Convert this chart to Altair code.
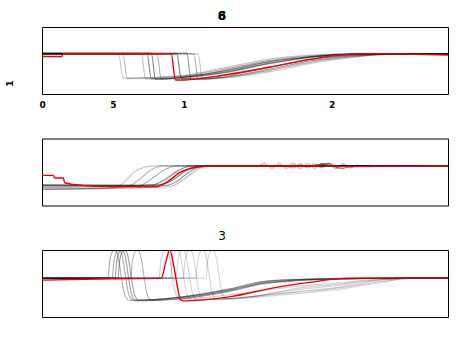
import altair as alt
import pandas as pd

X_MAX = 2.86
X_TICK_VALUES = [0, 0.5, 1, 2.04]
X_TICK_LABELS = ["0", "5", "1", "2"]
GRAY = "#000000"
RED = "#e8000b"

# ---------- panel 1 ----------
P1_GRAYS = [
    ("g1", 0.22, [0, 0.54, 0.57, 1.0, 1.3, 1.6, 1.9, 2.2, 2.86], [0.60, 0.60, 0.24, 0.28, 0.40, 0.52, 0.58, 0.60, 0.60]),
    ("g2", 0.28, [0, 0.57, 0.60, 1.0, 1.3, 1.6, 1.9, 2.2, 2.86], [0.60, 0.60, 0.23, 0.27, 0.38, 0.50, 0.57, 0.60, 0.60]),
    ("g3", 0.25, [0, 0.70, 0.73, 1.0, 1.3, 1.6, 1.9, 2.25, 2.86], [0.60, 0.60, 0.22, 0.25, 0.36, 0.49, 0.56, 0.60, 0.60]),
    ("g4", 0.45, [0, 0.74, 0.77, 1.0, 1.3, 1.6, 1.9, 2.25, 2.86], [0.60, 0.60, 0.23, 0.26, 0.35, 0.48, 0.56, 0.60, 0.60]),
    ("g5", 0.45, [0, 0.77, 0.80, 1.0, 1.3, 1.6, 1.9, 2.25, 2.86], [0.61, 0.61, 0.22, 0.25, 0.33, 0.46, 0.55, 0.60, 0.60]),
    ("g6", 0.30, [0, 0.81, 0.84, 1.0, 1.3, 1.6, 1.9, 2.3, 2.86], [0.60, 0.60, 0.22, 0.24, 0.32, 0.45, 0.55, 0.60, 0.60]),
    ("g7", 0.50, [0, 0.95, 0.98, 1.3, 1.6, 1.9, 2.2, 2.5, 2.86], [0.60, 0.60, 0.23, 0.28, 0.40, 0.52, 0.58, 0.60, 0.60]),
    ("g8", 0.40, [0, 1.02, 1.05, 1.3, 1.6, 1.9, 2.2, 2.5, 2.86], [0.61, 0.61, 0.22, 0.26, 0.37, 0.50, 0.57, 0.60, 0.60]),
    ("g9", 0.30, [0, 1.07, 1.10, 1.3, 1.6, 1.9, 2.2, 2.5, 2.86], [0.60, 0.60, 0.22, 0.25, 0.35, 0.48, 0.56, 0.60, 0.60]),
    ("g10", 0.22, [0, 1.10, 1.13, 1.3, 1.6, 1.9, 2.2, 2.5, 2.86], [0.60, 0.60, 0.22, 0.24, 0.33, 0.46, 0.55, 0.60, 0.60]),
]
P1_RED_X = [0, 0.14, 0.15, 0.91, 0.94, 1.0, 1.3, 1.6, 1.9, 2.1, 2.4, 2.86]
P1_RED_Y = [0.56, 0.56, 0.60, 0.60, 0.21, 0.21, 0.29, 0.40, 0.52, 0.58, 0.60, 0.58]

# ---------- panel 2 ----------
P2_GRAYS = [
    ("g1", 0.22, [0, 0.3, 0.5, 0.57, 0.65, 0.72, 0.8, 2.86], [0.24, 0.25, 0.26, 0.33, 0.50, 0.57, 0.59, 0.59]),
    ("g2", 0.28, [0, 0.4, 0.6, 0.68, 0.76, 0.85, 2.86], [0.25, 0.26, 0.28, 0.38, 0.52, 0.59, 0.59]),
    ("g3", 0.30, [0, 0.5, 0.68, 0.76, 0.86, 0.95, 2.86], [0.27, 0.28, 0.29, 0.38, 0.53, 0.59, 0.59]),
    ("g4", 0.45, [0, 0.6, 0.78, 0.86, 0.96, 1.05, 2.86], [0.30, 0.30, 0.31, 0.38, 0.52, 0.59, 0.59]),
    ("g5", 0.50, [0, 0.6, 0.84, 0.92, 1.02, 1.12, 2.86], [0.31, 0.30, 0.31, 0.38, 0.53, 0.59, 0.59]),
    ("g6", 0.40, [0, 0.6, 0.88, 0.95, 1.05, 1.15, 2.86], [0.29, 0.29, 0.30, 0.36, 0.52, 0.59, 0.59]),
    ("g7", 0.25, [0, 0.6, 0.90, 0.98, 1.08, 1.18, 2.86], [0.24, 0.26, 0.28, 0.36, 0.52, 0.59, 0.59]),
    ("w1", 0.28, [1.45, 1.52, 1.57, 1.62, 1.67, 1.72, 1.77, 1.82, 1.87, 1.92, 1.97, 2.02, 2.07],
                 [0.59, 0.59, 0.63, 0.55, 0.63, 0.55, 0.63, 0.55, 0.63, 0.55, 0.63, 0.59, 0.59]),
    ("w2", 0.35, [1.65, 1.72, 1.77, 1.82, 1.87, 1.92, 1.97, 2.02, 2.07, 2.12, 2.17, 2.22, 2.27, 2.32],
                 [0.59, 0.59, 0.56, 0.62, 0.56, 0.62, 0.56, 0.63, 0.55, 0.62, 0.56, 0.60, 0.59, 0.59]),
    ("w3", 0.45, [1.85, 1.92, 1.97, 2.02, 2.07, 2.12, 2.17, 2.22],
                 [0.59, 0.59, 0.62, 0.63, 0.57, 0.55, 0.59, 0.59]),
]
P2_RED_X = [0, 0.08, 0.09, 0.15, 0.16, 0.28, 0.5, 0.8, 0.88, 0.97, 1.09, 1.2, 1.9, 1.98, 2.05, 2.12, 2.86]
P2_RED_Y = [0.45, 0.45, 0.41, 0.41, 0.34, 0.30, 0.28, 0.28, 0.35, 0.49, 0.57, 0.59, 0.59, 0.61, 0.59, 0.58, 0.59]

# ---------- panel 3 ----------
P3_GRAYS = [
    ("a1", 0.30, [0, 0.465, 0.475, 0.49, 0.51, 0.53, 0.545, 0.56, 0.58, 0.61, 1.32, 1.55, 1.8, 2.04, 2.5, 2.86],
                 [0.58, 0.58, 0.80, 0.95, 1.0, 0.95, 0.80, 0.58, 0.35, 0.25, 0.41, 0.52, 0.56, 0.57, 0.58, 0.58]),
    ("a2", 0.30, [0, 0.495, 0.505, 0.52, 0.54, 0.56, 0.575, 0.59, 0.61, 0.64, 1.32, 1.55, 1.8, 2.04, 2.5, 2.86],
                 [0.58, 0.58, 0.80, 0.95, 1.0, 0.95, 0.80, 0.58, 0.35, 0.25, 0.40, 0.51, 0.55, 0.57, 0.58, 0.58]),
    ("a3", 0.35, [0, 0.515, 0.525, 0.54, 0.56, 0.58, 0.595, 0.61, 0.63, 0.66, 1.32, 1.55, 1.8, 2.04, 2.5, 2.86],
                 [0.58, 0.58, 0.80, 0.95, 1.0, 0.95, 0.80, 0.58, 0.35, 0.24, 0.39, 0.50, 0.55, 0.57, 0.58, 0.58]),
    ("a4", 0.35, [0, 0.535, 0.545, 0.56, 0.58, 0.60, 0.615, 0.63, 0.65, 0.68, 1.32, 1.55, 1.8, 2.04, 2.5, 2.86],
                 [0.58, 0.58, 0.80, 0.95, 1.0, 0.95, 0.80, 0.58, 0.35, 0.25, 0.42, 0.53, 0.56, 0.57, 0.58, 0.58]),
    ("a5", 0.28, [0, 0.625, 0.635, 0.65, 0.67, 0.69, 0.705, 0.72, 0.74, 0.77, 1.32, 1.55, 1.8, 2.04, 2.5, 2.86],
                 [0.58, 0.58, 0.80, 0.95, 1.0, 0.95, 0.80, 0.58, 0.35, 0.25, 0.38, 0.49, 0.54, 0.56, 0.58, 0.58]),
    ("b1", 0.18, [0, 0.825, 0.835, 0.85, 0.87, 0.89, 0.905, 0.92, 0.94, 0.97, 1.32, 1.8, 2.04, 2.4, 2.6, 2.86],
                 [0.58, 0.58, 0.80, 0.95, 1.0, 0.95, 0.80, 0.58, 0.35, 0.27, 0.33, 0.46, 0.50, 0.57, 0.58, 0.58]),
    ("b2", 0.16, [0, 0.905, 0.915, 0.93, 0.95, 0.97, 0.985, 1.0, 1.02, 1.05, 1.32, 1.8, 2.04, 2.4, 2.6, 2.86],
                 [0.58, 0.58, 0.80, 0.95, 1.0, 0.95, 0.80, 0.58, 0.35, 0.26, 0.28, 0.38, 0.43, 0.55, 0.58, 0.58]),
    ("b3", 0.16, [0, 0.945, 0.955, 0.97, 0.99, 1.01, 1.025, 1.04, 1.06, 1.09, 1.32, 1.8, 2.04, 2.4, 2.6, 2.86],
                 [0.58, 0.58, 0.80, 0.95, 1.0, 0.95, 0.80, 0.58, 0.35, 0.26, 0.27, 0.35, 0.40, 0.52, 0.58, 0.58]),
    ("b4", 0.16, [0, 0.995, 1.005, 1.02, 1.04, 1.06, 1.075, 1.09, 1.11, 1.14, 1.32, 1.8, 2.04, 2.4, 2.6, 2.86],
                 [0.58, 0.58, 0.80, 0.95, 1.0, 0.95, 0.80, 0.58, 0.35, 0.26, 0.27, 0.41, 0.46, 0.56, 0.58, 0.58]),
    ("b5", 0.16, [0, 1.085, 1.095, 1.11, 1.13, 1.15, 1.165, 1.18, 1.20, 1.23, 1.4, 1.8, 2.04, 2.4, 2.6, 2.86],
                 [0.58, 0.58, 0.80, 0.95, 1.0, 0.95, 0.80, 0.58, 0.35, 0.27, 0.29, 0.37, 0.42, 0.53, 0.58, 0.58]),
    ("b6", 0.16, [0, 1.155, 1.165, 1.18, 1.20, 1.22, 1.235, 1.25, 1.27, 1.30, 1.45, 1.8, 2.04, 2.4, 2.6, 2.86],
                 [0.58, 0.58, 0.80, 0.95, 1.0, 0.95, 0.80, 0.58, 0.35, 0.27, 0.29, 0.43, 0.48, 0.56, 0.58, 0.58]),
]
P3_RED_X = [0, 0.5, 0.84, 0.87, 0.90, 0.925, 0.95, 0.975, 1.0, 1.32, 1.67, 1.9, 2.14, 2.86]
P3_RED_Y = [0.55, 0.57, 0.58, 0.80, 1.0, 0.80, 0.50, 0.26, 0.24, 0.30, 0.45, 0.52, 0.58, 0.58]


def make_df(grays, red_x, red_y):
    rows = []
    for name, op, xs, ys in grays:
        for i, (x, y) in enumerate(zip(xs, ys)):
            rows.append({"series": name, "op": op, "x": x, "y": y, "i": i})
    gray_df = pd.DataFrame(rows)
    red_df = pd.DataFrame({"series": "red", "x": red_x, "y": red_y, "i": list(range(len(red_x)))})
    return gray_df, red_df


label_expr = "[" + ",".join(f"'{s}'" for s in X_TICK_LABELS) + "][indexof([" + \
    ",".join(str(v) for v in X_TICK_VALUES) + "], datum.value)]"

x_axis_top = alt.Axis(values=X_TICK_VALUES, labelExpr=label_expr, ticks=False, domain=False,
                      grid=False, title=None, labelPadding=6, labelFontSize=9,
                      labelFontWeight="bold", labelFlush=False, labelColor="black",
                      labelFont="DejaVu Sans")
y_axis_top = alt.Axis(labels=False, ticks=False, domain=False, grid=False, title="1",
                      titleFontSize=9, titleFontWeight="bold", titleX=-28, titleY=56,
                      titleColor="black", titleFont="DejaVu Sans")


def panel(grays, red_x, red_y, xaxis, yaxis, title):
    gdf, rdf = make_df(grays, red_x, red_y)
    xenc = alt.X("x:Q", scale=alt.Scale(domain=[0, X_MAX], nice=False, zero=False), axis=xaxis)
    yenc = alt.Y("y:Q", scale=alt.Scale(domain=[0, 1], nice=False, zero=False), axis=yaxis)
    g = alt.Chart(gdf).mark_line(interpolate="monotone", strokeWidth=1.2, color=GRAY, clip=True).encode(
        x=xenc, y=yenc, detail="series:N", order="i:Q",
        opacity=alt.Opacity("op:Q", scale=None, legend=None))
    r = alt.Chart(rdf).mark_line(interpolate="monotone", strokeWidth=1.4, color=RED, clip=True).encode(
        x=xenc, y=yenc, order="i:Q")
    ch = alt.layer(g, r).properties(width=406, height=67)
    if title is not None:
        ch = ch.properties(title=title)
    return ch


t1 = alt.TitleParams(text="6", subtitle="8", fontSize=12, subtitleFontSize=12, subtitlePadding=-12,
                     color="black", subtitleColor="black", font="DejaVu Sans", subtitleFont="DejaVu Sans",
                     fontWeight="bold", subtitleFontWeight="bold", anchor="middle", dx=-23, offset=4,
                     lineHeight=12, subtitleLineHeight=12)
t3 = alt.TitleParams(text="3", fontSize=12, color="black", font="DejaVu Sans", fontWeight="normal",
                     anchor="middle", dx=-23, offset=7)

p1 = panel(P1_GRAYS, P1_RED_X, P1_RED_Y, x_axis_top, y_axis_top, t1)
p2 = panel(P2_GRAYS, P2_RED_X, P2_RED_Y, None, None, None)
p3 = panel(P3_GRAYS, P3_RED_X, P3_RED_Y, None, None, t3)

chart = alt.vconcat(p1, p2, p3, spacing=44.5, bounds="flush").properties(
    padding={"left": 4, "top": 9, "right": 5, "bottom": 5},
    background="white",
).configure_view(stroke="black", strokeWidth=1)

chart.save("out.html", embed_options={"renderer": "svg", "actions": False})
